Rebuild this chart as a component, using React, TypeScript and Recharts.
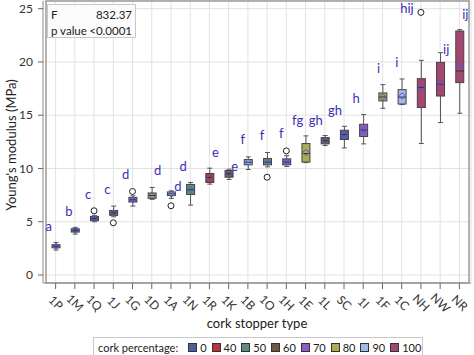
import React from "react";
import {
  ComposedChart,
  Bar,
  Line,
  XAxis,
  YAxis,
  CartesianGrid,
  ReferenceArea,
} from "recharts";

const FONT = "Lato, 'Open Sans', sans-serif";

// cork stopper types and their cork percentage group
const categories = ["1P", "1M", "1Q", "1J", "1G", "1D", "1A", "1N", "1R", "1K", "1B", "1O", "1H", "1E", "1L", "SC", "1I", "1F", "1C", "NH", "NW", "NR"];
const corkPct = [70, 0, 0, 60, 70, 80, 90, 50, 40, 60, 90, 50, 70, 80, 60, 0, 70, 80, 90, 100, 100, 100];

// box plot stats (MPa)
const mins = [2.34, 3.84, 5.0, 5.47, 6.47, 7.1, 7.19, 6.56, 8.53, 8.97, 9.9, 10.15, 10.19, 10.55, 12.15, 11.93, 12.31, 15.65, 16.0, 12.34, 14.31, 15.18];
const q1s = [2.55, 4.03, 5.1, 5.6, 6.85, 7.2, 7.45, 7.56, 8.69, 9.18, 10.34, 10.34, 10.34, 10.6, 12.31, 12.72, 13.0, 16.34, 16.05, 15.72, 16.8, 18.06];
const medians = [2.7, 4.19, 5.3, 5.84, 7.06, 7.47, 7.62, 8.0, 9.16, 9.5, 10.59, 10.6, 10.6, 11.4, 12.6, 13.18, 13.6, 16.71, 16.7, 17.59, 17.9, 19.15];
const q3s = [2.85, 4.34, 5.5, 6.06, 7.28, 7.7, 7.8, 8.5, 9.53, 9.81, 10.84, 10.93, 10.9, 12.34, 12.9, 13.59, 14.15, 17.09, 17.4, 18.43, 19.96, 22.9];
const maxs = [3.06, 4.47, 5.6, 6.47, 7.43, 8.22, 7.9, 8.69, 10.03, 9.93, 11.09, 11.5, 11.2, 13.06, 13.09, 13.96, 15.06, 17.87, 18.4, 20.15, 20.87, 23.03];
const means = [2.7, 4.19, 5.3, 5.84, 7.06, 7.47, 7.6, 8.0, 9.1, 9.5, 10.6, 10.6, 10.6, 11.5, 12.6, 13.15, 13.6, 16.7, 16.8, 17.6, 18.0, 19.6];
const outliers = [null, null, 6.03, 4.9, 7.84, null, 6.5, null, null, null, null, 9.18, 11.65, null, null, null, null, null, null, 24.65, null, null];

// Tukey letters and the height they are written at
const letters = ["a", "b", "c", "c", "d", "d", "d", "d", "e", "e", "f", "f", "f", "fg", "gh", "gh", "h", "i", "i", "hij", "ij", "ij"];
const letterY = [4.5, 5.9, 7.5, 7.97, 9.37, 9.75, 8.28, 10.15, 11.46, 10.1, 12.65, 13.06, 13.2, 14.5, 14.5, 15.37, 16.5, 19.37, 19.93, 24.93, 21.09, 24.37];
// horizontal nudge of each letter, px
const LETTER_DX = [-7, -6, -6, -6, -7, 6, 7, -7, 6, 6, -5, -5, -5, -8, -9, -9, -7, -4, -5, -14, 6, 6];

const corkLevels = [0, 40, 50, 60, 70, 80, 90, 100];
const CORK_COLORS: Record<number, string> = {
  0: "#4f5ea3",
  40: "#b5343f",
  50: "#5c8b82",
  60: "#6e5a44",
  70: "#8a5cc4",
  80: "#a9ad4f",
  90: "#9dbbe6",
  100: "#a4466f",
};

const yTicks = [0, 5, 10, 15, 20, 25];

const data = categories.map((type, i) => ({
  type,
  cork: corkPct[i],
  min: mins[i],
  q1: q1s[i],
  median: medians[i],
  q3: q3s[i],
  max: maxs[i],
  mean: means[i],
  outlier: outliers[i],
  letter: letters[i],
  letterY: letterY[i],
}));

function BoxShape(props: any) {
  const { x, y, width, height, payload } = props;
  if (x == null || y == null) return null;
  const top = Math.min(y, y + height);
  const bottom = Math.max(y, y + height);
  const per = (bottom - top) / (payload.max - payload.min);
  const toY = (v: number) => bottom - (v - payload.min) * per;
  const cx = x + width / 2;
  const yq1 = toY(payload.q1);
  const yq3 = toY(payload.q3);
  const ym = toY(payload.median);
  const ymean = toY(payload.mean);
  const cap = 2.5;
  const dw = width / 2 - 0.5;
  const dh = 3;
  return (
    <g>
      <line x1={cx} x2={cx} y1={top} y2={yq3} stroke="#555" />
      <line x1={cx} x2={cx} y1={yq1} y2={bottom} stroke="#555" />
      <line x1={cx - cap} x2={cx + cap} y1={top} y2={top} stroke="#555" />
      <line x1={cx - cap} x2={cx + cap} y1={bottom} y2={bottom} stroke="#555" />
      <rect x={x} y={yq3} width={width} height={Math.max(yq1 - yq3, 1)} fill={CORK_COLORS[payload.cork]} stroke="#444" strokeWidth={1} />
      <line x1={x} x2={x + width} y1={ym} y2={ym} stroke="#333" />
      <polygon
        points={`${cx - dw},${ymean} ${cx},${ymean - dh} ${cx + dw},${ymean} ${cx},${ymean + dh}`}
        fill="none"
        stroke="#5a5ad0"
        strokeWidth={1}
      />
    </g>
  );
}

function OutlierDot(props: any) {
  const { cx, cy, payload, index } = props;
  if (payload.outlier == null || cy == null || isNaN(cy)) return <g key={`o${index}`} />;
  return <circle key={`o${index}`} cx={cx} cy={cy} r={3} fill="#fff" stroke="#222" strokeWidth={1} />;
}

function LetterDot(props: any) {
  const { cx, cy, payload, index } = props;
  if (cy == null || isNaN(cy)) return <g key={`l${index}`} />;
  return (
    <text key={`l${index}`} x={cx + LETTER_DX[index]} y={cy + 4} textAnchor="middle" fontSize={13} fill="#3b30b0" fontFamily={FONT}>
      {payload.letter}
    </text>
  );
}

function XTick(props: any) {
  const { x, y, payload } = props;
  return (
    <g transform={`translate(${x},${y + 12})`}>
      <text transform="rotate(45)" textAnchor="middle" dy={4} fontSize={12} fill="#333" fontFamily={FONT}>
        {payload.value}
      </text>
    </g>
  );
}

export default function App() {
  return (
    <div style={{ position: "relative", width: 474, height: 355, background: "#fff", fontFamily: FONT, overflow: "hidden" }}>
      <style>{`body{margin:0}`}</style>
      <ComposedChart width={474} height={332} data={data} margin={{ top: 1, right: 3, bottom: 0, left: 0 }}>
        <CartesianGrid stroke="#e2e2e2" />
        <XAxis
          dataKey="type"
          interval={0}
          padding={{ left: 3, right: 2 }}
          height={49}
          tick={<XTick />}
          tickSize={6}
          tickLine={{ stroke: "#666" }}
          axisLine={{ stroke: "#999" }}
          label={{
            content: (p: any) => {
              const vb = p.viewBox;
              return (
                <text x={vb.x + vb.width / 2} y={vb.y + 45} textAnchor="middle" fontSize={13} fill="#222" fontFamily={FONT}>
                  cork stopper type
                </text>
              );
            },
          }}
        />
        <YAxis
          type="number"
          domain={[-0.75, 25.72]}
          allowDataOverflow
          ticks={yTicks}
          width={43}
          tickSize={5}
          tickMargin={5}
          tick={{ fontSize: 12, fill: "#333", fontFamily: FONT }}
          tickLine={{ stroke: "#666" }}
          axisLine={{ stroke: "#999" }}
          label={{
            content: (p: any) => {
              const vb = p.viewBox;
              const cy = vb.y + vb.height / 2 + 3;
              return (
                <text x={11} y={cy} transform={`rotate(-90, 11, ${cy})`} textAnchor="middle" dominantBaseline="central" fontSize={13} fill="#222" fontFamily={FONT}>
                  Young's modulus (MPa)
                </text>
              );
            },
          }}
        />
        <ReferenceArea y1={-0.75} y2={25.72} fill="none" stroke="#9a9a9a" strokeWidth={1.5} />
        <Bar dataKey={(d: any) => [d.min, d.max]} barSize={8} shape={<BoxShape />} isAnimationActive={false} />
        <Line dataKey="outlier" stroke="none" dot={<OutlierDot />} activeDot={false} isAnimationActive={false} />
        <Line dataKey="letterY" stroke="none" dot={<LetterDot />} activeDot={false} isAnimationActive={false} />
      </ComposedChart>

      <div
        style={{
          position: "absolute",
          left: 47,
          top: 4,
          width: 89,
          height: 34,
          boxSizing: "border-box",
          border: "1px solid #c8c8c8",
          background: "#fbfbfb",
          fontSize: 11.5,
          color: "#222",
          padding: "2px 3px 0 3px",
          lineHeight: "16px",
          whiteSpace: "nowrap",
        }}
      >
        <div style={{ display: "flex", justifyContent: "space-between" }}>
          <span>F</span>
          <span>832.37</span>
        </div>
        <div style={{ display: "flex", justifyContent: "space-between" }}>
          <span>p value</span>
          <span>&lt;0.0001</span>
        </div>
      </div>

      <div
        style={{
          position: "absolute",
          left: 93,
          top: 337,
          width: 330,
          height: 20,
          boxSizing: "border-box",
          border: "1px solid #c8c8c8",
          background: "#fff",
          display: "flex",
          alignItems: "center",
          paddingLeft: 4,
          fontSize: 11,
          color: "#222",
          whiteSpace: "nowrap",
        }}
      >
        <span style={{ marginRight: 10 }}>cork percentage:</span>
        {corkLevels.map((c) => (
          <span key={c} style={{ display: "flex", alignItems: "center", marginRight: 5 }}>
            <span
              style={{
                display: "inline-block",
                width: 9,
                height: 9,
                boxSizing: "border-box",
                background: CORK_COLORS[c],
                border: "1px solid #333",
                marginRight: 3,
              }}
            />
            <span>{c}</span>
          </span>
        ))}
      </div>
    </div>
  );
}
